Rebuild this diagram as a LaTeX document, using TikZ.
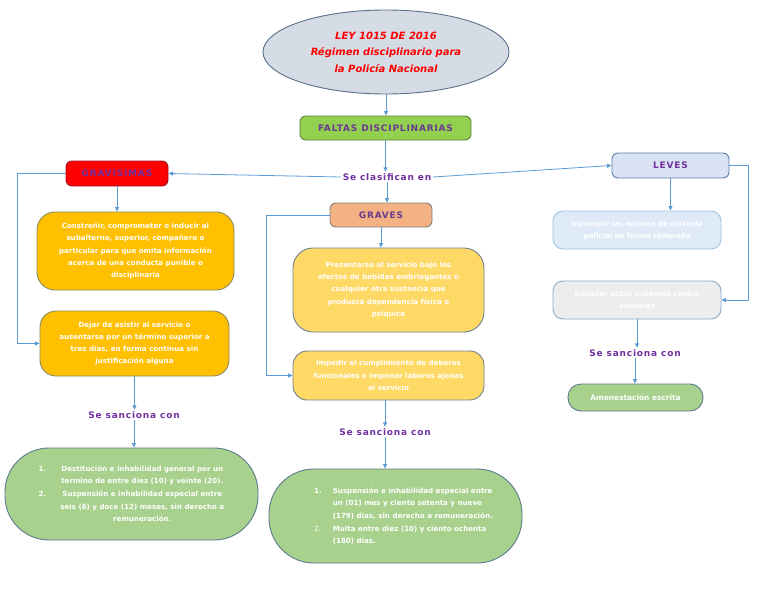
\documentclass[tikz,border=0pt]{standalone}
\usepackage{fontspec}
\setmainfont{Liberation Sans}
\newfontfamily\spacedfont[LetterSpace=9]{DejaVu Sans}
\newfontfamily\bodyfont{DejaVu Sans}
\usetikzlibrary{arrows.meta,shapes.geometric}
\definecolor{conn}{HTML}{5B9BD5}
\definecolor{purp}{HTML}{7030A0}
\definecolor{hdrtxt}{HTML}{6A3A8F}
\definecolor{ellfill}{HTML}{D6DCE5}
\definecolor{ellline}{HTML}{5A6F8A}
\definecolor{fgreen}{HTML}{92D050}
\definecolor{fgreenline}{HTML}{5E7F3A}
\definecolor{gred}{HTML}{FF0000}
\definecolor{gredline}{HTML}{A01020}
\definecolor{levfill}{HTML}{DAE3F3}
\definecolor{levline}{HTML}{5B7FA8}
\definecolor{salmon}{HTML}{F4B183}
\definecolor{grayline}{HTML}{7F7F7F}
\definecolor{amber}{HTML}{FFC000}
\definecolor{amberline}{HTML}{8A8A5E}
\definecolor{lyellow}{HTML}{FFD966}
\definecolor{lyelline}{HTML}{6F7F8F}
\definecolor{sgreen}{HTML}{A9D18E}
\definecolor{sgreenline}{HTML}{5B7A8C}
\definecolor{lblue}{HTML}{DEEBF7}
\definecolor{lblueline}{HTML}{9DC3E6}
\definecolor{lgray}{HTML}{EDEDED}
\definecolor{lgrayline}{HTML}{8FAAC4}
\tikzset{
  conn/.style={draw=conn, line width=0.8pt, -{Triangle[length=4.5pt,width=4pt]}},
  hdr/.style={line width=0.9pt, rounded corners=6pt, inner sep=0pt, text=hdrtxt,
    font=\spacedfont\bfseries\fontsize{9}{11}\selectfont},
  box/.style={line width=0.9pt, rounded corners=#1, inner sep=2pt, align=center,
    text=white, font=\bodyfont\bfseries\fontsize{7.1}{12.2}\selectfont},
  box/.default=18pt,
  lab/.style={fill=white, inner sep=1.5pt, text=purp,
    font=\spacedfont\bfseries\fontsize{9}{11}\selectfont},
}
\begin{document}
\begin{tikzpicture}[x=1pt,y=-1pt]
\path[use as bounding box] (0,0) rectangle (768,594);

% title
\node[ellipse, draw=ellline, fill=ellfill, line width=0.9pt, minimum width=246pt,
  minimum height=84pt, inner sep=0pt, align=center, text=gred,
  font=\bodyfont\bfseries\itshape\fontsize{10}{16.5}\selectfont] (title) at (386,52)
  {LEY 1015 DE 2016\\Régimen disciplinario para\\la Policía Nacional};

% headers
\node[hdr, draw=fgreenline, fill=fgreen, minimum width=171pt, minimum height=24pt] (faltas) at (385.5,128) {FALTAS DISCIPLINARIAS};
\node[hdr, draw=gredline, fill=gred, text=purp, minimum width=102pt, minimum height=25pt] (gravisimas) at (117,173.5) {GRAVISIMAS};
\node[hdr, draw=grayline, fill=salmon, minimum width=102pt, minimum height=24pt] (graves) at (381,215) {GRAVES};
\node[hdr, draw=levline, fill=levfill, text=purp, minimum width=117pt, minimum height=25pt] (leves) at (670.5,165.5) {LEVES};

\node[lab] (clasif) at (387,177) {Se clasifican en};

% gravisimas column
\node[box=18pt, draw=amberline, fill=amber, minimum width=197pt, minimum height=78pt] (box1) at (135.5,251)
  {Constreñir, comprometer o inducir al\\subalterno, superior, compañero o\\particular para que omita información\\acerca de una conducta punible o\\disciplinaria};
\node[box=16pt, draw=amberline, fill=amber, minimum width=189pt, minimum height=65pt] (box2) at (134.5,343.5)
  {Dejar de asistir al servicio o\\ausentarse por un término superior a\\tres días, en forma continua sin\\justificación alguna};
\node[lab] (sanc1) at (134,415) {Se sanciona con};
\node[box=44pt, draw=sgreenline, fill=sgreen, minimum width=253pt, minimum height=92pt,
  font=\bodyfont\bfseries\fontsize{7.1}{12.6}\selectfont] (green1) at (131.5,494)
  {\begin{tabular}{@{}r@{\hspace{14pt}}c@{}}
   1. & Destitución e inhabilidad general por un\\
      & termino de entre diez (10) y veinte (20).\\
   2. & Suspensión e inhabilidad especial entre\\
      & seis (6) y doce (12) meses, sin derecho a\\
      & remuneración.
   \end{tabular}};

% graves column
\node[box=20pt, draw=lyelline, fill=lyellow, minimum width=191pt, minimum height=84pt] (box3) at (388.5,290)
  {Presentarse al servicio bajo los\\efectos de bebidas embriagantes o\\cualquier otra sustancia que\\produzca dependencia física o\\psíquica};
\node[box=14pt, draw=lyelline, fill=lyellow, minimum width=191pt, minimum height=49pt] (box4) at (388.5,375.5)
  {Impedir el cumplimiento de deberes\\funcionales o imponer labores ajenas\\al servicio};
\node[lab] (sanc2) at (385,432) {Se sanciona con};
\node[box=45pt, draw=sgreenline, fill=sgreen, minimum width=253pt, minimum height=94pt,
  font=\bodyfont\bfseries\fontsize{7.1}{12.6}\selectfont] (green2) at (395.5,516)
  {\hspace*{16pt}\begin{tabular}{@{}l@{\hspace{11pt}}l@{}}
   1. & Suspensión e inhabilidad especial entre\\
      & un (01) mes y ciento setenta y nueve\\
      & (179) días, sin derecho a remuneración.\\
   {\mdseries 2.} & Multa entre diez (10) y ciento ochenta\\
      & (180) días.
   \end{tabular}};

% leves column
\node[box=10pt, draw=lblueline, fill=lblue, minimum width=168pt, minimum height=38pt] (box5) at (637,230)
  {Incumplir las normas de cortesía\\policial de forma reiterada};
\node[box=10pt, draw=lgrayline, fill=lgray, minimum width=168pt, minimum height=38pt] (box6) at (637,300)
  {Ejecutar actos violentos contra\\animales};
\node[lab] (sanc3) at (635,353) {Se sanciona con};
\node[box=13pt, draw=sgreenline, fill=sgreen, minimum width=135pt, minimum height=27pt,
  font=\bodyfont\bfseries\fontsize{7.4}{10}\selectfont] (amon) at (635.5,397.5) {Amonestación escrita};

% connectors
\draw[conn] (title.south) -- (title.south |- faltas.north);
\draw[conn] (faltas.south) -- (faltas.south |- clasif.north);
\draw[conn] (clasif.south) -- (clasif.south |- graves.north);
\draw[conn] (clasif.west) -- (gravisimas.east);
\draw[conn] (clasif.east) -- (leves.west);

\draw[conn] (gravisimas.south) -- (gravisimas.south |- box1.north);
\coordinate (gl) at (17,173.5);
\draw[conn] (gravisimas.west) -- (gl) |- (box2.west);
\draw[conn] (box2.south) -- (box2.south |- sanc1.north);
\draw[conn] (sanc1.south) -- (sanc1.south |- green1.north);

\draw[conn] (graves.south) -- (graves.south |- box3.north);
\coordinate (gr) at (266,215);
\draw[conn] (graves.west) -- (gr) |- (box4.west);
\draw[conn] (sanc2.north |- box4.south) -- (sanc2.north);
\draw[conn] (sanc2.south) -- (sanc2.south |- green2.north);

\draw[conn] (leves.south) -- (leves.south |- box5.north);
\coordinate (lr) at (748,165.5);
\draw[conn] (leves.east) -- (lr) |- (box6.east);
\draw[conn] (box6.south) -- (box6.south |- sanc3.north);
\draw[conn] (sanc3.south) -- (sanc3.south |- amon.north);
\end{tikzpicture}
\end{document}
